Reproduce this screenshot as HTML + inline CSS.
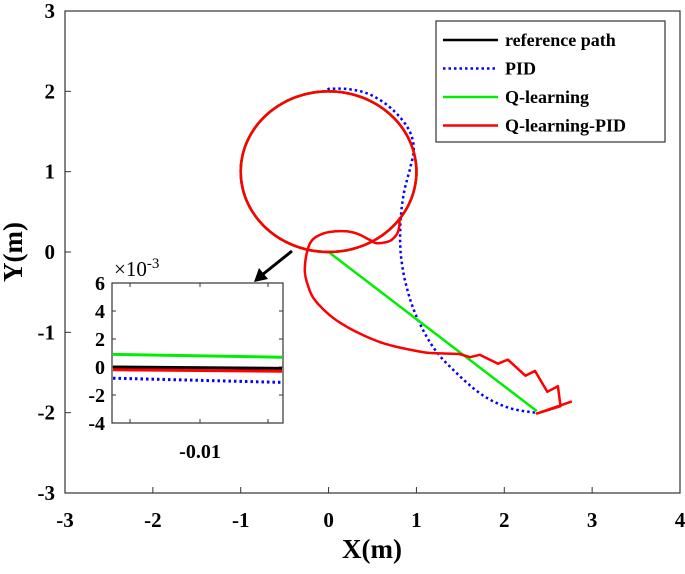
<!DOCTYPE html>
<html><head><meta charset="utf-8">
<style>
html,body{margin:0;padding:0;background:#fff;}
svg{display:block;font-family:"Liberation Serif",serif;font-weight:bold;}
</style></head>
<body>
<svg id="chart" width="685" height="574" viewBox="0 0 685 574"></svg>
<script>
const xTicks = [-3,-2,-1,0,1,2,3,4];
const yTicks = [-3,-2,-1,0,1,2,3];
const pidRight = [[0.0,2.03],[0.2,2.03],[0.45,1.97],[0.7,1.8],[0.9,1.55],[0.97,1.3],[0.93,1.05],[0.86,0.75],[0.82,0.4],[0.82,0.0],[0.88,-0.4],[1.0,-0.8],[1.2,-1.2],[1.45,-1.5],[1.75,-1.78],[2.05,-1.94],[2.35,-2.0]];
const qlLine = [[0,0],[2.37,-1.98]];
const qpidLoop = [[0.81,0.42],[0.79,0.25],[0.70,0.14],[0.55,0.11],[0.47,0.15],[0.32,0.23],[0.16,0.26],[-0.06,0.23],[-0.21,0.11],[-0.27,-0.18],[-0.24,-0.4],[-0.14,-0.62],[0.13,-0.88],[0.58,-1.12],[1.04,-1.24],[1.23,-1.26]];
const qpidZigzag = [[1.49,-1.27],[1.61,-1.31],[1.72,-1.28],[1.93,-1.39],[2.04,-1.34],[2.24,-1.54],[2.35,-1.48],[2.49,-1.74],[2.61,-1.67],[2.64,-1.92],[2.37,-2.01],[2.77,-1.86]];
const insetYTicks = [6,4,2,0,-2,-4];
const insetGreen = [0.9,0.7];
const insetBlack = [0.0,-0.1];
const insetRed = [-0.2,-0.3];
const insetBlue = [-0.8,-1.1];
const legendLabels = ["reference path","PID","Q-learning","Q-learning-PID"];

const NS="http://www.w3.org/2000/svg";
const svg=document.getElementById('chart');
function mk(tag,attrs,parent){const e=document.createElementNS(NS,tag);for(const k in attrs)e.setAttribute(k,attrs[k]);(parent||svg).appendChild(e);return e;}
const X0=65,X1=680,Y0=493,Y1=11;
const sx=v=>X0+(v+3)/7*(X1-X0);
const sy=v=>Y0-(v+3)/6*(Y0-Y1);
const pts=a=>a.map(p=>sx(p[0]).toFixed(1)+','+sy(p[1]).toFixed(1)).join(' ');
function circlePts(fromDeg,toDeg,n){const r=[];for(let i=0;i<=n;i++){const t=(fromDeg+(toDeg-fromDeg)*i/n)*Math.PI/180;r.push([Math.cos(t),1+Math.sin(t)]);}return r;}
function smooth(a,k){const r=[];for(let i=0;i<a.length-1;i++){const p0=a[Math.max(i-1,0)],p1=a[i],p2=a[i+1],p3=a[Math.min(i+2,a.length-1)];for(let j=0;j<k;j++){const t=j/k,t2=t*t,t3=t2*t;const f=(a0,a1,a2,a3)=>0.5*((2*a1)+(-a0+a2)*t+(2*a0-5*a1+4*a2-a3)*t2+(-a0+3*a1-3*a2+a3)*t3);r.push([f(p0[0],p1[0],p2[0],p3[0]),f(p0[1],p1[1],p2[1],p3[1])]);}}r.push(a[a.length-1]);return r;}

// axes box
let e=mk('rect',{x:X0,y:Y1,width:X1-X0,height:Y0-Y1,fill:'none',stroke:'#333','stroke-width':1.2});

xTicks.forEach(v=>{
  mk('line',{x1:sx(v),x2:sx(v),y1:Y0,y2:Y0-6,stroke:'#333'});
  const t=mk('text',{x:sx(v),y:Y0+34,'font-size':21,'text-anchor':'middle'});t.textContent=v;
  
});
yTicks.forEach(v=>{
  mk('line',{x1:X0,x2:X0+6,y1:sy(v),y2:sy(v),stroke:'#333'});
  const t=mk('text',{x:X0-10,y:sy(v)+7,'font-size':21,'text-anchor':'end'});t.textContent=v;
  
});
e=mk('text',{x:372,y:558,'font-size':27,'text-anchor':'middle'});e.textContent='X(m)';

e=mk('text',{x:0,y:0,'font-size':27,'text-anchor':'middle',transform:'translate(22,252) rotate(-90)'});e.textContent='Y(m)';


// series
const full=circlePts(-90,-450,160);
e=mk('polyline',{points:pts(circlePts(-90,-268,90).concat(smooth(pidRight,6))),fill:'none',stroke:'#0000ff','stroke-width':2.5,'stroke-dasharray':'2.5,3'});

e=mk('polyline',{points:pts(full),fill:'none',stroke:'#000','stroke-width':2.5});

e=mk('polyline',{points:pts(full.concat(qlLine)),fill:'none',stroke:'#00ee00','stroke-width':2.5});

e=mk('polyline',{points:pts(full.concat(circlePts(-90,-395,60)).concat(smooth(qpidLoop,8)).concat(qpidZigzag)),fill:'none',stroke:'#ff0000','stroke-width':2.5,'stroke-linejoin':'round'});


// arrow
e=mk('g',{});
mk('line',{x1:292,y1:251,x2:262,y2:275,stroke:'#000','stroke-width':3},e);
mk('polygon',{points:'254,282 259,268 268,279',fill:'#000'},e);

// inset
const IX0=112,IX1=283,IY0=283,IY1=423;
const isy=v=>IY1-(v+4)/10*(IY1-IY0);
const ig=mk('g',{});
mk('rect',{x:IX0,y:IY0,width:IX1-IX0,height:IY1-IY0,fill:'#fff',stroke:'#333','stroke-width':1.2},ig);
insetYTicks.forEach(v=>{
  mk('line',{x1:IX0,x2:IX0+4,y1:isy(v),y2:isy(v),stroke:'#333'},ig);
  mk('line',{x1:IX1,x2:IX1-4,y1:isy(v),y2:isy(v),stroke:'#333'},ig);
  const t=mk('text',{x:IX0-7,y:isy(v)+7,'font-size':20,'text-anchor':'end'},ig);t.textContent=v;
  
});
[130,200,268].forEach(x=>{mk('line',{x1:x,x2:x,y1:IY1,y2:IY1-4,stroke:'#333'},ig);mk('line',{x1:x,x2:x,y1:IY0,y2:IY0+4,stroke:'#333'},ig);});
e=mk('text',{x:200,y:458,'font-size':20,'text-anchor':'middle'},ig);e.textContent='-0.01';

e=mk('text',{x:114,y:276,'font-size':21,'font-weight':'normal'},ig);e.innerHTML='×10<tspan dy="-8" font-size="15">-3</tspan>';

[[insetGreen,'#00ee00',null,'inset-q-learning'],[insetBlack,'#000',null,'inset-reference'],[insetRed,'#ff0000',null,'inset-q-learning-pid'],[insetBlue,'#0000ff','2.5,3','inset-pid']].forEach(s=>{
  const a={x1:IX0+1,x2:IX1-1,y1:isy(s[0][0]),y2:isy(s[0][1]),stroke:s[1],'stroke-width':3};
  if(s[2])a['stroke-dasharray']=s[2];
  const l=mk('line',a,ig);
});

// legend
const lg=mk('g',{});
mk('rect',{x:436,y:21,width:229,height:121,fill:'#fff',stroke:'#333','stroke-width':1.2},lg);
const lstyles=[['#000',null],['#0000ff','2.5,3'],['#00ee00',null],['#ff0000',null]];
legendLabels.forEach((lab,i)=>{
  const y=40+i*28.5;
  const a={x1:443,x2:498,y1:y,y2:y,stroke:lstyles[i][0],'stroke-width':2.5};
  if(lstyles[i][1])a['stroke-dasharray']=lstyles[i][1];
  mk('line',a,lg);
  const t=mk('text',{x:505,y:y+6,'font-size':18},lg);t.textContent=lab;
  
});
</script>
</body></html>
